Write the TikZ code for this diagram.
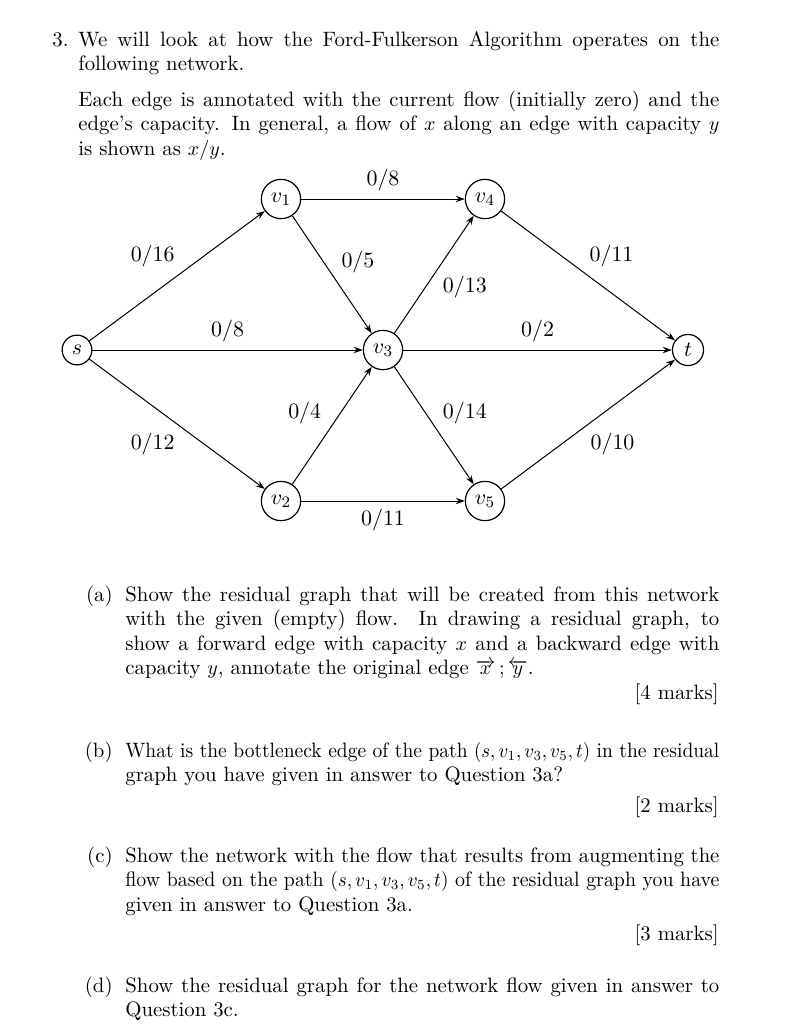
\documentclass[tikz,border=0pt]{standalone}
\usepackage{graphicx}
\usetikzlibrary{arrows.meta,positioning}
% One full line of a justified paragraph; a line that is too long is squeezed.
\newcommand{\jline}[1]{\sbox0{#1}\ifdim\wd0>\hsize\resizebox{\hsize}{\height}{#1}\else#1\fi\linebreak}
\tikzset{
  vertex/.style={draw,circle,inner sep=2.8pt,line width=0.6pt,font=\fontsize{11.3}{13}\selectfont},
  flowedge/.style={-{Stealth[length=4.5pt,width=3.2pt]},line width=0.5pt},
  flowlabel/.style={inner sep=0pt,font=\fontsize{11.3}{13}\selectfont},
  para/.style={anchor=base west,inner sep=0pt,align=justify,font=\fontsize{10.4}{12.25}\selectfont},
  itemlabel/.style={anchor=base east,inner sep=0pt,font=\fontsize{10.4}{12.25}\selectfont},
  markslabel/.style={anchor=base east,inner sep=0pt,font=\fontsize{10.4}{12.25}\selectfont},
}
\begin{document}
\begin{tikzpicture}[x=0.5pt,y=-0.5pt]
  \useasboundingbox (0,0) rectangle (790,1024);

  % Question text.
  \node[itemlabel] (num) at (69,46) {3.};
  \node[para,text width=320.5pt] (intro) at (78,46)
    {\jline{We will look at how the Ford-Fulkerson Algorithm operates on the}
     following network.};
  \node[para,text width=320.5pt] (note) at (78,106)
    {\jline{Each edge is annotated with the current flow (initially zero) and the}
     \jline{edge’s capacity. In general, a flow of $x$ along an edge with capacity $y$}
     is shown as $x/y$.};

  % The network.
  \node[vertex] (s)  at (77,350)  {$s$};
  \node[vertex] (v1) at (281,199) {$v_1$};
  \node[vertex] (v4) at (485,199) {$v_4$};
  \node[vertex] (v3) at (383,350) {$v_3$};
  \node[vertex] (t)  at (688,350) {$t$};
  \node[vertex] (v2) at (281,501) {$v_2$};
  \node[vertex] (v5) at (485,501) {$v_5$};

  \draw[flowedge] (s) -- node[flowlabel,above left=4pt and 1pt] {$0/16$} (v1);
  \draw[flowedge] (v1) -- node[flowlabel,above=4pt] {$0/8$} (v4);
  \draw[flowedge] (v1) -- node[flowlabel,above right=0.6pt and 4.5pt] {$0/5$} (v3);
  \draw[flowedge] (v3) -- node[flowlabel,below right=0.6pt and 4.2pt] {$0/13$} (v4);
  \draw[flowedge] (v4) -- node[flowlabel,above right=4pt and 0.5pt] {$0/11$} (t);
  \draw[flowedge] (s) -- node[flowlabel,above=4pt] {$0/8$} (v3);
  \draw[flowedge] (v3) -- node[flowlabel,above=4pt] {$0/2$} (t);
  \draw[flowedge] (v2) -- node[flowlabel,above left=0.4pt and 5.2pt] {$0/4$} (v3);
  \draw[flowedge] (v3) -- node[flowlabel,above right=0.4pt and 4.2pt] {$0/14$} (v5);
  \draw[flowedge] (s) -- node[flowlabel,below left=4pt and 1pt] {$0/12$} (v2);
  \draw[flowedge] (v5) -- node[flowlabel,below right=4pt and 1pt] {$0/10$} (t);
  \draw[flowedge] (v2) -- node[flowlabel,below=4pt] {$0/11$} (v5);

  % Part (a).
  \node[itemlabel] (parta) at (113,601) {(a)};
  \node[para,text width=297pt] (texta) at (125,601)
    {\jline{Show the residual graph that will be created from this network}
     \jline{with the given (empty) flow.\ \ In drawing a residual graph, to}
     \jline{show a forward edge with capacity $x$ and a backward edge with}
     capacity $y$, annotate the original edge $\overrightarrow{x}\,;\overleftarrow{y}$.};
  \node[markslabel] (marka) at (719,699) {[4 marks]};

  % Part (b).
  \node[itemlabel] (partb) at (113,757) {(b)};
  \node[para,text width=297pt] (textb) at (125,757)
    {\jline{What is the bottleneck edge of the path $(s, v_1, v_3, v_5, t)$ in the residual}
     graph you have given in answer to Question 3a?};
  \node[markslabel] (markb) at (719,812) {[2 marks]};

  % Part (c).
  \node[itemlabel] (partc) at (113,862) {(c)};
  \node[para,text width=297pt] (textc) at (125,862)
    {\jline{Show the network with the flow that results from augmenting the}
     \jline{flow based on the path $(s, v_1, v_3, v_5, t)$ of the residual graph you have}
     given in answer to Question 3a.};
  \node[markslabel] (markc) at (719,940) {[3 marks]};

  % Part (d).
  \node[itemlabel] (partd) at (113,992) {(d)};
  \node[para,text width=297pt] (textd) at (125,992)
    {\jline{Show the residual graph for the network flow given in answer to}
     Question 3c.};
\end{tikzpicture}
\end{document}
